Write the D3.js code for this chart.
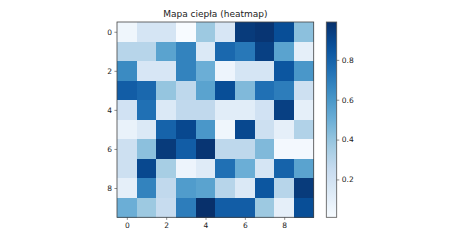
<!DOCTYPE html>
<html><head><meta charset="utf-8">
<script src="https://cdn.jsdelivr.net/npm/d3@7"></script>
<style>body{margin:0;background:#fff;} text{font-family:"DejaVu Sans",sans-serif;fill:#222;}</style>
</head><body><svg id="c" width="474" height="240"></svg>
<script>
const title = "Mapa ciepła (heatmap)";
const rows = [0,1,2,3,4,5,6,7,8,9];
const cols = [0,1,2,3,4,5,6,7,8,9];
const values = [
  [0.05,0.18,0.18,0.01,0.38,0.17,0.95,0.97,0.88,0.42],
  [0.30,0.30,0.55,0.68,0.15,0.78,0.72,0.93,0.55,0.10],
  [0.65,0.17,0.17,0.68,0.50,0.06,0.18,0.18,0.85,0.60],
  [0.82,0.78,0.40,0.28,0.55,0.88,0.45,0.75,0.70,0.22],
  [0.20,0.75,0.15,0.27,0.27,0.12,0.12,0.20,0.93,0.10],
  [0.08,0.15,0.80,0.90,0.60,0.05,0.90,0.22,0.10,0.32],
  [0.22,0.42,0.95,0.82,0.97,0.28,0.28,0.45,0.03,0.03],
  [0.22,0.90,0.35,0.06,0.13,0.75,0.50,0.18,0.80,0.55],
  [0.10,0.68,0.27,0.58,0.55,0.30,0.15,0.85,0.30,0.95],
  [0.50,0.38,0.25,0.70,0.99,0.82,0.82,0.38,0.10,0.88]
];
const axisTicks = [0,2,4,6,8];
const cbTicks = [0.2,0.4,0.6,0.8];
const bluesStops = ["#f7fbff","#deebf7","#c6dbef","#9ecae1","#6baed6","#4292c6","#2171b5","#08519c","#08306b"];

const svg = d3.select("#c");
const L=117, R=313.7, T=22, B=217.3;
const x = d3.scaleBand().domain(cols).range([L,R]).padding(0);
const y = d3.scaleBand().domain(rows).range([T,B]).padding(0);
const flat = values.flat();
const ext = d3.extent(flat);
const norm = d3.scaleLinear().domain(ext).range([0,1]);
const cmap = d3.scaleLinear().domain(bluesStops.map((_,i)=>i/(bluesStops.length-1))).range(bluesStops).interpolate(d3.interpolateRgb).clamp(true);
const color = v => cmap(norm(v));

const cells = [];
values.forEach((r,i)=>r.forEach((v,j)=>cells.push({i,j,v})));
svg.append("g").selectAll("rect").data(cells).join("rect")
  .attr("x",d=>x(d.j)).attr("y",d=>y(d.i))
  .attr("width",x.bandwidth()+0.3).attr("height",y.bandwidth()+0.3)
  .attr("fill",d=>color(d.v)).attr("shape-rendering","crispEdges");

svg.append("rect").attr("x",L).attr("y",T).attr("width",R-L).attr("height",B-T)
  .attr("fill","none").attr("stroke","#444").attr("stroke-width",0.8);

const xc = d3.scaleLinear().domain([-0.5,9.5]).range([L,R]);
const yc = d3.scaleLinear().domain([-0.5,9.5]).range([T,B]);
const xa = svg.append("g").attr("transform",`translate(0,${B})`)
  .call(d3.axisBottom(xc).tickValues(axisTicks).tickSize(2.6).tickPadding(2.5));
const ya = svg.append("g").attr("transform",`translate(${L},0)`)
  .call(d3.axisLeft(yc).tickValues(axisTicks).tickSize(2.6).tickPadding(2.5));
[xa,ya].forEach(a=>{a.select(".domain").remove();a.selectAll("line").attr("stroke","#444").attr("stroke-width",0.6);a.selectAll("text").style("font-size","7.5px").attr("fill","#222").style("font-family","DejaVu Sans");});

svg.append("text").attr("x",(L+R)/2).attr("y",17).attr("text-anchor","middle")
  .style("font-size","9px").text(title);

// colorbar
const cbL=326.3, cbR=336.7;
const defs = svg.append("defs");
const grad = defs.append("linearGradient").attr("id","g").attr("x1",0).attr("y1",1).attr("x2",0).attr("y2",0);
d3.range(0,1.0001,0.05).forEach(t=>grad.append("stop").attr("offset",t).attr("stop-color",cmap(t)));
svg.append("rect").attr("x",cbL).attr("y",T).attr("width",cbR-cbL).attr("height",B-T)
  .attr("fill","url(#g)").attr("stroke","#555").attr("stroke-width",0.8);
const cbs = d3.scaleLinear().domain(ext).range([B,T]);
const ca = svg.append("g").attr("transform",`translate(${cbR},0)`)
  .call(d3.axisRight(cbs).tickValues(cbTicks).tickFormat(d3.format(".1f")).tickSize(2.6).tickPadding(2.5));
ca.select(".domain").remove();
ca.selectAll("line").attr("stroke","#444").attr("stroke-width",0.6);
ca.selectAll("text").style("font-size","7.5px").attr("fill","#222").style("font-family","DejaVu Sans");
</script></body></html>
